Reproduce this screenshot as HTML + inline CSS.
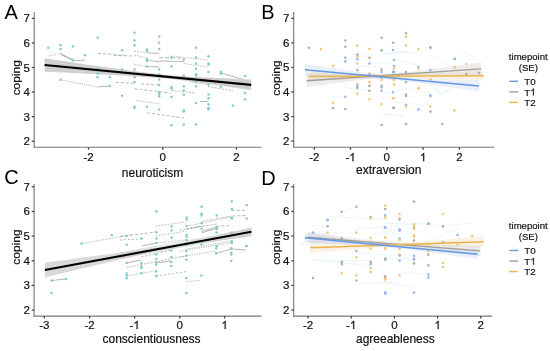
<!DOCTYPE html>
<html><head><meta charset="utf-8"><style>
html,body{margin:0;padding:0;background:#fff;}
svg{display:block;will-change:transform;}
text{font-family:"Liberation Sans", sans-serif;fill:#1a1a1a;}
.tk{font-size:11.5px;fill:#111;stroke:#111;stroke-width:0.2px;}
.ti{font-size:12px;fill:#111;stroke:#111;stroke-width:0.2px;}
.pl{font-size:20px;fill:#000;}
.lg2{font-size:9.8px;fill:#111;stroke:#111;stroke-width:0.18px;}
.lg{font-size:9.6px;fill:#111;stroke:#111;stroke-width:0.18px;}
</style></head><body>
<svg width="550" height="351" viewBox="0 0 550 351">
<rect width="550" height="351" fill="#fff"/>
<g>
<line x1="48.5" y1="56" x2="60.5" y2="53.4" stroke="#9c9c9c" stroke-width="0.75" stroke-dasharray="1,1.2"/>
<line x1="60.5" y1="53" x2="73" y2="61" stroke="#9c9c9c" stroke-width="0.75"/>
<line x1="60.5" y1="54.6" x2="73" y2="59.6" stroke="#9c9c9c" stroke-width="0.75"/>
<line x1="73" y1="61" x2="85" y2="60" stroke="#9c9c9c" stroke-width="0.75"/>
<line x1="98" y1="53.3" x2="124" y2="55.5" stroke="#9c9c9c" stroke-width="0.75" stroke-dasharray="3,2"/>
<line x1="60.5" y1="79.8" x2="97.7" y2="87" stroke="#9c9c9c" stroke-width="0.75" stroke-dasharray="1,1"/>
<line x1="97.7" y1="87" x2="109.8" y2="86" stroke="#9c9c9c" stroke-width="0.75"/>
<line x1="114" y1="55.5" x2="134.5" y2="56" stroke="#9c9c9c" stroke-width="0.75" stroke-dasharray="3,2"/>
<line x1="134.5" y1="51.5" x2="146.9" y2="52.5" stroke="#9c9c9c" stroke-width="0.75" stroke-dasharray="1.5,1.5"/>
<line x1="146.9" y1="52.8" x2="159.2" y2="53.3" stroke="#9c9c9c" stroke-width="0.75"/>
<line x1="134.5" y1="55" x2="146.9" y2="58" stroke="#9c9c9c" stroke-width="0.75" stroke-dasharray="1.5,1.5"/>
<line x1="146.9" y1="60" x2="159.2" y2="62" stroke="#9c9c9c" stroke-width="0.75"/>
<line x1="159.2" y1="57.6" x2="183.8" y2="58" stroke="#9c9c9c" stroke-width="0.75" stroke-dasharray="4,2"/>
<line x1="171.5" y1="56" x2="208" y2="60" stroke="#9c9c9c" stroke-width="0.75" stroke-dasharray="1.2,1.2"/>
<line x1="134.5" y1="64.5" x2="146.9" y2="66.5" stroke="#9c9c9c" stroke-width="0.75" stroke-dasharray="1.2,1.2"/>
<line x1="146.9" y1="66.5" x2="159.2" y2="67" stroke="#9c9c9c" stroke-width="0.75"/>
<line x1="183.8" y1="63.5" x2="208" y2="67" stroke="#9c9c9c" stroke-width="0.75" stroke-dasharray="1.2,1.2"/>
<line x1="159.2" y1="61" x2="183.8" y2="61.5" stroke="#9c9c9c" stroke-width="0.75"/>
<line x1="115.7" y1="82.3" x2="134.5" y2="83.3" stroke="#9c9c9c" stroke-width="0.75" stroke-dasharray="3,2"/>
<line x1="134.5" y1="88.8" x2="170.5" y2="93.1" stroke="#9c9c9c" stroke-width="0.75" stroke-dasharray="3,2"/>
<line x1="136.2" y1="100.5" x2="159.2" y2="103.9" stroke="#9c9c9c" stroke-width="0.75" stroke-dasharray="1.2,1.2"/>
<line x1="146.9" y1="112.8" x2="183.8" y2="117.9" stroke="#9c9c9c" stroke-width="0.75" stroke-dasharray="3,2"/>
<line x1="171.5" y1="90.5" x2="196.1" y2="93.1" stroke="#9c9c9c" stroke-width="0.75" stroke-dasharray="2,1.5"/>
<line x1="141" y1="84" x2="159.2" y2="85" stroke="#9c9c9c" stroke-width="0.75" stroke-dasharray="3,2"/>
<line x1="220.8" y1="73" x2="245" y2="80" stroke="#9c9c9c" stroke-width="0.75"/>
<line x1="190" y1="82" x2="208.5" y2="84.5" stroke="#9c9c9c" stroke-width="0.75" stroke-dasharray="1.2,1.2"/>
<line x1="208" y1="86.5" x2="233" y2="91" stroke="#9c9c9c" stroke-width="0.75" stroke-dasharray="2,1.5"/>
<line x1="200" y1="101.5" x2="208.5" y2="101.5" stroke="#9c9c9c" stroke-width="0.75"/>
<polygon points="44.6,58.2 49.8,59.0 54.9,59.8 60.1,60.6 65.3,61.3 70.4,62.1 75.6,62.9 80.8,63.7 85.9,64.4 91.1,65.2 96.2,66.0 101.4,66.8 106.6,67.5 111.7,68.3 116.9,69.0 122.1,69.8 127.2,70.5 132.4,71.2 137.6,71.9 142.7,72.6 147.9,73.2 153.1,73.8 158.2,74.3 163.4,74.8 168.6,75.3 173.7,75.7 178.9,76.0 184.1,76.3 189.2,76.6 194.4,76.9 199.5,77.1 204.7,77.4 209.9,77.6 215.0,77.9 220.2,78.1 225.4,78.3 230.5,78.5 235.7,78.8 240.9,79.0 246.0,79.2 251.2,79.4 251.2,90.4 246.0,89.6 240.9,88.8 235.7,88.1 230.5,87.3 225.4,86.5 220.2,85.7 215.0,85.0 209.9,84.2 204.7,83.5 199.5,82.7 194.4,82.0 189.2,81.3 184.1,80.6 178.9,79.9 173.7,79.2 168.6,78.6 163.4,78.1 158.2,77.5 153.1,77.1 147.9,76.7 142.7,76.3 137.6,76.0 132.4,75.7 127.2,75.4 122.1,75.2 116.9,74.9 111.7,74.7 106.6,74.4 101.4,74.2 96.2,74.0 91.1,73.7 85.9,73.5 80.8,73.3 75.6,73.1 70.4,72.9 65.3,72.6 60.1,72.4 54.9,72.2 49.8,72.0 44.6,71.8" fill="#d4d4d4"/>
<line x1="44.6" y1="60" x2="251.2" y2="86.5" stroke="#c2c2c2" stroke-width="0.6"/>
<line x1="44.6" y1="70" x2="251.2" y2="83.5" stroke="#c2c2c2" stroke-width="0.6"/>
<line x1="44.6" y1="62.5" x2="251.2" y2="88" stroke="#c2c2c2" stroke-width="0.6"/>
<line x1="44.6" y1="68" x2="251.2" y2="81.5" stroke="#c2c2c2" stroke-width="0.6"/>
<circle cx="48.2" cy="47.7" r="1.25" fill="#84c9ce"/>
<circle cx="60.5" cy="45.3" r="1.25" fill="#84c9ce"/>
<circle cx="60.5" cy="49.1" r="1.25" fill="#84c9ce"/>
<circle cx="73" cy="46.5" r="1.25" fill="#84c9ce"/>
<circle cx="97.7" cy="37.8" r="1.25" fill="#84c9ce"/>
<circle cx="85" cy="55.2" r="1.25" fill="#84c9ce"/>
<circle cx="73" cy="60" r="1.25" fill="#84c9ce"/>
<circle cx="122.1" cy="50.3" r="1.25" fill="#84c9ce"/>
<circle cx="97.7" cy="68.4" r="1.25" fill="#84c9ce"/>
<circle cx="97.7" cy="73.6" r="1.25" fill="#84c9ce"/>
<circle cx="97.7" cy="77.3" r="1.25" fill="#84c9ce"/>
<circle cx="109.8" cy="77.3" r="1.25" fill="#84c9ce"/>
<circle cx="60.5" cy="79.8" r="1.25" fill="#84c9ce"/>
<circle cx="122.1" cy="69.6" r="1.25" fill="#84c9ce"/>
<circle cx="134.5" cy="32.8" r="1.25" fill="#84c9ce"/>
<circle cx="134.5" cy="40.5" r="1.25" fill="#84c9ce"/>
<circle cx="134.5" cy="45.3" r="1.25" fill="#84c9ce"/>
<circle cx="146.9" cy="49.4" r="1.25" fill="#84c9ce"/>
<circle cx="146.9" cy="51.1" r="1.25" fill="#84c9ce"/>
<circle cx="146.9" cy="59" r="1.25" fill="#84c9ce"/>
<circle cx="146.9" cy="61" r="1.25" fill="#84c9ce"/>
<circle cx="146.9" cy="66.5" r="1.25" fill="#84c9ce"/>
<circle cx="159.2" cy="36.6" r="1.25" fill="#84c9ce"/>
<circle cx="159.2" cy="42.8" r="1.25" fill="#84c9ce"/>
<circle cx="159.2" cy="49.1" r="1.25" fill="#84c9ce"/>
<circle cx="159.2" cy="69.6" r="1.25" fill="#84c9ce"/>
<circle cx="159.2" cy="74.4" r="1.25" fill="#84c9ce"/>
<circle cx="171.5" cy="57.6" r="1.25" fill="#84c9ce"/>
<circle cx="171.5" cy="66.2" r="1.25" fill="#84c9ce"/>
<circle cx="183.8" cy="59.4" r="1.25" fill="#84c9ce"/>
<circle cx="183.8" cy="75.6" r="1.25" fill="#84c9ce"/>
<circle cx="196.1" cy="47.7" r="1.25" fill="#84c9ce"/>
<circle cx="196.1" cy="57.6" r="1.25" fill="#84c9ce"/>
<circle cx="196.1" cy="63.6" r="1.25" fill="#84c9ce"/>
<circle cx="196.1" cy="68.8" r="1.25" fill="#84c9ce"/>
<circle cx="196.1" cy="75.6" r="1.25" fill="#84c9ce"/>
<circle cx="134.5" cy="69.6" r="1.25" fill="#84c9ce"/>
<circle cx="134.5" cy="77.3" r="1.25" fill="#84c9ce"/>
<circle cx="196.2" cy="74.3" r="1.25" fill="#84c9ce"/>
<circle cx="208.5" cy="56.2" r="1.25" fill="#84c9ce"/>
<circle cx="208.5" cy="63.6" r="1.25" fill="#84c9ce"/>
<circle cx="208.5" cy="64.6" r="1.25" fill="#84c9ce"/>
<circle cx="208.5" cy="72.1" r="1.25" fill="#84c9ce"/>
<circle cx="220.8" cy="72.1" r="1.25" fill="#84c9ce"/>
<circle cx="220.8" cy="73.8" r="1.25" fill="#84c9ce"/>
<circle cx="245" cy="75.9" r="1.25" fill="#84c9ce"/>
<circle cx="109.8" cy="85.9" r="1.25" fill="#84c9ce"/>
<circle cx="122.1" cy="95.7" r="1.25" fill="#84c9ce"/>
<circle cx="134.5" cy="82" r="1.25" fill="#84c9ce"/>
<circle cx="134.5" cy="106.8" r="1.25" fill="#84c9ce"/>
<circle cx="134.5" cy="108" r="1.25" fill="#84c9ce"/>
<circle cx="146.9" cy="106.8" r="1.25" fill="#84c9ce"/>
<circle cx="159.2" cy="79.4" r="1.25" fill="#84c9ce"/>
<circle cx="159.2" cy="85" r="1.25" fill="#84c9ce"/>
<circle cx="159.2" cy="92.2" r="1.25" fill="#84c9ce"/>
<circle cx="159.2" cy="94.3" r="1.25" fill="#84c9ce"/>
<circle cx="159.2" cy="96.5" r="1.25" fill="#84c9ce"/>
<circle cx="159.2" cy="109.4" r="1.25" fill="#84c9ce"/>
<circle cx="171.5" cy="87.1" r="1.25" fill="#84c9ce"/>
<circle cx="171.5" cy="88.5" r="1.25" fill="#84c9ce"/>
<circle cx="171.5" cy="97" r="1.25" fill="#84c9ce"/>
<circle cx="171.5" cy="125.3" r="1.25" fill="#84c9ce"/>
<circle cx="183.8" cy="86.3" r="1.25" fill="#84c9ce"/>
<circle cx="183.8" cy="90.5" r="1.25" fill="#84c9ce"/>
<circle cx="183.8" cy="94.8" r="1.25" fill="#84c9ce"/>
<circle cx="183.8" cy="110.2" r="1.25" fill="#84c9ce"/>
<circle cx="183.8" cy="111.6" r="1.25" fill="#84c9ce"/>
<circle cx="183.8" cy="124.4" r="1.25" fill="#84c9ce"/>
<circle cx="196.1" cy="82" r="1.25" fill="#84c9ce"/>
<circle cx="196.1" cy="86.3" r="1.25" fill="#84c9ce"/>
<circle cx="196.1" cy="102.9" r="1.25" fill="#84c9ce"/>
<circle cx="196.1" cy="124.4" r="1.25" fill="#84c9ce"/>
<circle cx="208.5" cy="84.5" r="1.25" fill="#84c9ce"/>
<circle cx="220.8" cy="86.7" r="1.25" fill="#84c9ce"/>
<circle cx="208.5" cy="94.4" r="1.25" fill="#84c9ce"/>
<circle cx="208.5" cy="98.2" r="1.25" fill="#84c9ce"/>
<circle cx="208.5" cy="104.2" r="1.25" fill="#84c9ce"/>
<circle cx="208.5" cy="107.9" r="1.25" fill="#84c9ce"/>
<circle cx="208.5" cy="109.3" r="1.25" fill="#84c9ce"/>
<circle cx="233" cy="105.5" r="1.25" fill="#84c9ce"/>
<circle cx="245" cy="93.1" r="1.25" fill="#84c9ce"/>
<circle cx="245" cy="99.4" r="1.25" fill="#84c9ce"/>
<line x1="44.6" y1="65.0" x2="251.2" y2="84.9" stroke="#000" stroke-width="2.1"/>
</g>
<line x1="34.2" y1="12" x2="34.2" y2="147.8" stroke="#767676" stroke-width="1.1"/>
<line x1="33.7" y1="147.3" x2="261.5" y2="147.3" stroke="#767676" stroke-width="1.1"/>
<line x1="31.800000000000004" y1="18.4" x2="34.2" y2="18.4" stroke="#454545" stroke-width="1.3"/>
<text x="30.000000000000004" y="22.4" text-anchor="end" class="tk">7</text>
<line x1="31.800000000000004" y1="42.96" x2="34.2" y2="42.96" stroke="#454545" stroke-width="1.3"/>
<text x="30.000000000000004" y="46.96" text-anchor="end" class="tk">6</text>
<line x1="31.800000000000004" y1="67.52" x2="34.2" y2="67.52" stroke="#454545" stroke-width="1.3"/>
<text x="30.000000000000004" y="71.52" text-anchor="end" class="tk">5</text>
<line x1="31.800000000000004" y1="92.08" x2="34.2" y2="92.08" stroke="#454545" stroke-width="1.3"/>
<text x="30.000000000000004" y="96.08" text-anchor="end" class="tk">4</text>
<line x1="31.800000000000004" y1="116.64" x2="34.2" y2="116.64" stroke="#454545" stroke-width="1.3"/>
<text x="30.000000000000004" y="120.64" text-anchor="end" class="tk">3</text>
<line x1="31.800000000000004" y1="141.2" x2="34.2" y2="141.2" stroke="#454545" stroke-width="1.3"/>
<text x="30.000000000000004" y="145.2" text-anchor="end" class="tk">2</text>
<line x1="88.5" y1="147.3" x2="88.5" y2="149.70000000000002" stroke="#454545" stroke-width="1.3"/>
<text x="88.5" y="160.5" text-anchor="middle" class="tk">-2</text>
<line x1="162.7" y1="147.3" x2="162.7" y2="149.70000000000002" stroke="#454545" stroke-width="1.3"/>
<text x="162.7" y="160.5" text-anchor="middle" class="tk">0</text>
<line x1="236.4" y1="147.3" x2="236.4" y2="149.70000000000002" stroke="#454545" stroke-width="1.3"/>
<text x="236.4" y="160.5" text-anchor="middle" class="tk">2</text>
<text x="121.8" y="176.5" class="ti">neuroticism</text>
<text transform="translate(20.1,77.7) rotate(-90) scale(1,0.9)" x="0" y="0" text-anchor="middle" class="ti">coping</text>
<text x="4.5" y="18.7" class="pl">A</text>
<line x1="81.6" y1="243.6" x2="132.2" y2="234.5" stroke="#9c9c9c" stroke-width="0.75" stroke-dasharray="1.2,1.2"/>
<line x1="120" y1="236.5" x2="156" y2="232" stroke="#9c9c9c" stroke-width="0.75" stroke-dasharray="3,2"/>
<line x1="120" y1="240" x2="141.5" y2="239" stroke="#9c9c9c" stroke-width="0.75" stroke-dasharray="2,2"/>
<line x1="156" y1="226" x2="186.6" y2="222" stroke="#9c9c9c" stroke-width="0.75" stroke-dasharray="1.5,1.5"/>
<line x1="156" y1="236" x2="186.6" y2="231" stroke="#9c9c9c" stroke-width="0.75" stroke-dasharray="1.5,1.5"/>
<line x1="186.6" y1="229" x2="200" y2="226" stroke="#9c9c9c" stroke-width="0.75" stroke-dasharray="2,1.5"/>
<line x1="156" y1="243" x2="186.6" y2="240" stroke="#9c9c9c" stroke-width="0.75" stroke-dasharray="1.2,1.2"/>
<line x1="142" y1="246" x2="156" y2="243" stroke="#9c9c9c" stroke-width="0.75"/>
<line x1="186.5" y1="226.3" x2="230.9" y2="216.8" stroke="#9c9c9c" stroke-width="0.75" stroke-dasharray="1.2,1.2"/>
<line x1="186.6" y1="229" x2="216.7" y2="224" stroke="#9c9c9c" stroke-width="0.75" stroke-dasharray="2.5,1.5"/>
<line x1="201.8" y1="231.4" x2="216.4" y2="227.1" stroke="#9c9c9c" stroke-width="0.75"/>
<line x1="201.8" y1="232.8" x2="216.4" y2="228.5" stroke="#9c9c9c" stroke-width="0.75"/>
<line x1="231.8" y1="210.3" x2="246.9" y2="210.3" stroke="#9c9c9c" stroke-width="0.75" stroke-dasharray="3,2"/>
<line x1="232.4" y1="216.1" x2="246.9" y2="215.4" stroke="#9c9c9c" stroke-width="0.75" stroke-dasharray="3,2"/>
<line x1="216.4" y1="226.3" x2="230.9" y2="225.5" stroke="#9c9c9c" stroke-width="0.75" stroke-dasharray="3,2"/>
<line x1="201.8" y1="221.2" x2="230.9" y2="216.1" stroke="#9c9c9c" stroke-width="0.75" stroke-dasharray="1.2,1.2"/>
<line x1="180" y1="230" x2="201.8" y2="226.3" stroke="#9c9c9c" stroke-width="0.75" stroke-dasharray="2,1.5"/>
<line x1="186.6" y1="249" x2="231.8" y2="241" stroke="#9c9c9c" stroke-width="0.75" stroke-dasharray="1.2,1.2"/>
<line x1="126.8" y1="267.4" x2="186.7" y2="255.7" stroke="#9c9c9c" stroke-width="0.75" stroke-dasharray="2,1.5"/>
<line x1="126.8" y1="275.9" x2="156.2" y2="270.8" stroke="#9c9c9c" stroke-width="0.75" stroke-dasharray="1.2,1.2"/>
<line x1="156.2" y1="275.9" x2="186.3" y2="271.6" stroke="#9c9c9c" stroke-width="0.75" stroke-dasharray="2,2"/>
<line x1="141" y1="257" x2="171" y2="250" stroke="#9c9c9c" stroke-width="0.75" stroke-dasharray="2.5,1.5"/>
<line x1="186.3" y1="281.9" x2="200" y2="280.2" stroke="#9c9c9c" stroke-width="0.75" stroke-dasharray="1.2,1.2"/>
<line x1="126.5" y1="263" x2="141" y2="260" stroke="#9c9c9c" stroke-width="0.75"/>
<line x1="156" y1="263" x2="171" y2="261" stroke="#9c9c9c" stroke-width="0.75"/>
<line x1="180" y1="251" x2="231.3" y2="243" stroke="#9c9c9c" stroke-width="0.75" stroke-dasharray="1.2,1.2"/>
<line x1="180" y1="257" x2="216" y2="251" stroke="#9c9c9c" stroke-width="0.75" stroke-dasharray="1.2,1.2"/>
<line x1="216.2" y1="253.3" x2="231.3" y2="249" stroke="#9c9c9c" stroke-width="0.75"/>
<line x1="231.3" y1="249" x2="246" y2="250" stroke="#9c9c9c" stroke-width="0.75"/>
<line x1="51.6" y1="280.5" x2="66" y2="278.9" stroke="#9c9c9c" stroke-width="0.75"/>
<polygon points="44.9,262.6 50.1,261.9 55.2,261.2 60.4,260.6 65.5,259.9 70.7,259.2 75.9,258.5 81.0,257.8 86.2,257.1 91.4,256.5 96.5,255.8 101.7,255.1 106.8,254.4 112.0,253.7 117.2,253.0 122.3,252.3 127.5,251.5 132.7,250.8 137.8,250.1 143.0,249.3 148.2,248.6 153.3,247.8 158.5,247.0 163.6,246.1 168.8,245.2 174.0,244.3 179.1,243.4 184.3,242.3 189.5,241.3 194.6,240.2 199.8,239.1 204.9,238.0 210.1,236.8 215.3,235.7 220.4,234.5 225.6,233.3 230.8,232.1 235.9,230.9 241.1,229.7 246.2,228.5 251.4,227.3 251.4,236.3 246.2,237.0 241.1,237.7 235.9,238.4 230.8,239.1 225.6,239.8 220.4,240.6 215.3,241.3 210.1,242.1 204.9,242.8 199.8,243.6 194.6,244.4 189.5,245.2 184.3,246.1 179.1,247.0 174.0,247.9 168.8,248.9 163.6,249.9 158.5,251.0 153.3,252.1 148.2,253.2 143.0,254.4 137.8,255.5 132.7,256.7 127.5,257.9 122.3,259.1 117.2,260.3 112.0,261.5 106.8,262.7 101.7,263.9 96.5,265.1 91.4,266.4 86.2,267.6 81.0,268.8 75.9,270.0 70.7,271.3 65.5,272.5 60.4,273.7 55.2,274.9 50.1,276.2 44.9,277.4" fill="#d9d9d9"/>
<line x1="120" y1="253" x2="251.4" y2="229.2" stroke="#c6c6c6" stroke-width="0.6"/>
<line x1="120" y1="258" x2="251.4" y2="234.6" stroke="#c6c6c6" stroke-width="0.6"/>
<circle cx="81.6" cy="243.6" r="1.25" fill="#84c9ce"/>
<circle cx="111.8" cy="234.9" r="1.25" fill="#84c9ce"/>
<circle cx="126.7" cy="236" r="1.25" fill="#84c9ce"/>
<circle cx="126.7" cy="244.8" r="1.25" fill="#84c9ce"/>
<circle cx="51.6" cy="280.5" r="1.25" fill="#84c9ce"/>
<circle cx="66.0" cy="278.9" r="1.25" fill="#84c9ce"/>
<circle cx="51.6" cy="292.9" r="1.25" fill="#84c9ce"/>
<circle cx="126.7" cy="263.1" r="1.25" fill="#84c9ce"/>
<circle cx="126.7" cy="273.6" r="1.25" fill="#84c9ce"/>
<circle cx="126.7" cy="275.5" r="1.25" fill="#84c9ce"/>
<circle cx="126.7" cy="278.2" r="1.25" fill="#84c9ce"/>
<circle cx="156.4" cy="211.3" r="1.25" fill="#84c9ce"/>
<circle cx="141.5" cy="238.5" r="1.25" fill="#84c9ce"/>
<circle cx="156.4" cy="232.3" r="1.25" fill="#84c9ce"/>
<circle cx="156.4" cy="238.5" r="1.25" fill="#84c9ce"/>
<circle cx="156.4" cy="242.9" r="1.25" fill="#84c9ce"/>
<circle cx="171.6" cy="226.2" r="1.25" fill="#84c9ce"/>
<circle cx="171.6" cy="230.5" r="1.25" fill="#84c9ce"/>
<circle cx="171.6" cy="237.8" r="1.25" fill="#84c9ce"/>
<circle cx="186.6" cy="217.5" r="1.25" fill="#84c9ce"/>
<circle cx="186.6" cy="219.6" r="1.25" fill="#84c9ce"/>
<circle cx="186.6" cy="225.9" r="1.25" fill="#84c9ce"/>
<circle cx="186.6" cy="234.9" r="1.25" fill="#84c9ce"/>
<circle cx="186.6" cy="236.7" r="1.25" fill="#84c9ce"/>
<circle cx="186.6" cy="240" r="1.25" fill="#84c9ce"/>
<circle cx="186.6" cy="245.1" r="1.25" fill="#84c9ce"/>
<circle cx="201.6" cy="206.8" r="1.25" fill="#84c9ce"/>
<circle cx="201.6" cy="213.8" r="1.25" fill="#84c9ce"/>
<circle cx="201.6" cy="215.4" r="1.25" fill="#84c9ce"/>
<circle cx="201.6" cy="223.2" r="1.25" fill="#84c9ce"/>
<circle cx="201.6" cy="228.7" r="1.25" fill="#84c9ce"/>
<circle cx="201.6" cy="244.4" r="1.25" fill="#84c9ce"/>
<circle cx="216.7" cy="215.4" r="1.25" fill="#84c9ce"/>
<circle cx="216.7" cy="227.2" r="1.25" fill="#84c9ce"/>
<circle cx="216.7" cy="228.7" r="1.25" fill="#84c9ce"/>
<circle cx="216.7" cy="232.6" r="1.25" fill="#84c9ce"/>
<circle cx="216.7" cy="246" r="1.25" fill="#84c9ce"/>
<circle cx="231.8" cy="201.6" r="1.25" fill="#84c9ce"/>
<circle cx="231.8" cy="209.1" r="1.25" fill="#84c9ce"/>
<circle cx="231.8" cy="217.7" r="1.25" fill="#84c9ce"/>
<circle cx="231.8" cy="218.5" r="1.25" fill="#84c9ce"/>
<circle cx="231.8" cy="232.6" r="1.25" fill="#84c9ce"/>
<circle cx="231.8" cy="241.3" r="1.25" fill="#84c9ce"/>
<circle cx="231.8" cy="242.8" r="1.25" fill="#84c9ce"/>
<circle cx="246.7" cy="205.2" r="1.25" fill="#84c9ce"/>
<circle cx="246.7" cy="218.5" r="1.25" fill="#84c9ce"/>
<circle cx="246.7" cy="246" r="1.25" fill="#84c9ce"/>
<circle cx="141.4" cy="263.1" r="1.25" fill="#84c9ce"/>
<circle cx="141.4" cy="266.5" r="1.25" fill="#84c9ce"/>
<circle cx="141.4" cy="267.9" r="1.25" fill="#84c9ce"/>
<circle cx="141.4" cy="273.3" r="1.25" fill="#84c9ce"/>
<circle cx="156.2" cy="254.5" r="1.25" fill="#84c9ce"/>
<circle cx="156.2" cy="259.1" r="1.25" fill="#84c9ce"/>
<circle cx="156.2" cy="262.2" r="1.25" fill="#84c9ce"/>
<circle cx="156.2" cy="264.8" r="1.25" fill="#84c9ce"/>
<circle cx="156.2" cy="271.6" r="1.25" fill="#84c9ce"/>
<circle cx="156.2" cy="275.9" r="1.25" fill="#84c9ce"/>
<circle cx="171.3" cy="250.6" r="1.25" fill="#84c9ce"/>
<circle cx="171.3" cy="257.1" r="1.25" fill="#84c9ce"/>
<circle cx="171.3" cy="261.9" r="1.25" fill="#84c9ce"/>
<circle cx="171.3" cy="266" r="1.25" fill="#84c9ce"/>
<circle cx="186.3" cy="251.1" r="1.25" fill="#84c9ce"/>
<circle cx="186.3" cy="255.4" r="1.25" fill="#84c9ce"/>
<circle cx="186.3" cy="259.7" r="1.25" fill="#84c9ce"/>
<circle cx="186.3" cy="278" r="1.25" fill="#84c9ce"/>
<circle cx="186.3" cy="293" r="1.25" fill="#84c9ce"/>
<circle cx="201.4" cy="275.6" r="1.25" fill="#84c9ce"/>
<circle cx="216.2" cy="248.2" r="1.25" fill="#84c9ce"/>
<circle cx="216.2" cy="253.3" r="1.25" fill="#84c9ce"/>
<circle cx="231.3" cy="248.2" r="1.25" fill="#84c9ce"/>
<circle cx="231.3" cy="252.8" r="1.25" fill="#84c9ce"/>
<circle cx="231.3" cy="254.5" r="1.25" fill="#84c9ce"/>
<circle cx="231.3" cy="260.9" r="1.25" fill="#84c9ce"/>
<circle cx="246.3" cy="246" r="1.25" fill="#84c9ce"/>
<line x1="44.9" y1="270.0" x2="251.4" y2="231.8" stroke="#000" stroke-width="2.1"/>
<line x1="34.1" y1="184" x2="34.1" y2="316.6" stroke="#767676" stroke-width="1.1"/>
<line x1="33.6" y1="316.1" x2="261.4" y2="316.1" stroke="#767676" stroke-width="1.1"/>
<line x1="31.700000000000003" y1="186.8" x2="34.1" y2="186.8" stroke="#454545" stroke-width="1.3"/>
<text x="29.900000000000002" y="190.8" text-anchor="end" class="tk">7</text>
<line x1="31.700000000000003" y1="211.46" x2="34.1" y2="211.46" stroke="#454545" stroke-width="1.3"/>
<text x="29.900000000000002" y="215.46" text-anchor="end" class="tk">6</text>
<line x1="31.700000000000003" y1="236.12" x2="34.1" y2="236.12" stroke="#454545" stroke-width="1.3"/>
<text x="29.900000000000002" y="240.12" text-anchor="end" class="tk">5</text>
<line x1="31.700000000000003" y1="260.78" x2="34.1" y2="260.78" stroke="#454545" stroke-width="1.3"/>
<text x="29.900000000000002" y="264.78" text-anchor="end" class="tk">4</text>
<line x1="31.700000000000003" y1="285.44" x2="34.1" y2="285.44" stroke="#454545" stroke-width="1.3"/>
<text x="29.900000000000002" y="289.44" text-anchor="end" class="tk">3</text>
<line x1="31.700000000000003" y1="310.1" x2="34.1" y2="310.1" stroke="#454545" stroke-width="1.3"/>
<text x="29.900000000000002" y="314.1" text-anchor="end" class="tk">2</text>
<line x1="44.4" y1="316.1" x2="44.4" y2="318.5" stroke="#454545" stroke-width="1.3"/>
<text x="44.4" y="329.0" text-anchor="middle" class="tk">-3</text>
<line x1="89.6" y1="316.1" x2="89.6" y2="318.5" stroke="#454545" stroke-width="1.3"/>
<text x="89.6" y="329.0" text-anchor="middle" class="tk">-2</text>
<line x1="134.6" y1="316.1" x2="134.6" y2="318.5" stroke="#454545" stroke-width="1.3"/>
<text x="129.49" y="329.0" class="tk">-</text><path d="M762 0L582 0L582 1147Q517 1085 411 1023Q305 961 221 930L221 1104Q372 1175 485 1276Q598 1377 645 1472L762 1472Z" transform="translate(133.32,329.00) scale(0.00562,-0.00562)" fill="#111" stroke="#111" stroke-width="35.6"/>
<line x1="179.8" y1="316.1" x2="179.8" y2="318.5" stroke="#454545" stroke-width="1.3"/>
<text x="179.8" y="329.0" text-anchor="middle" class="tk">0</text>
<line x1="224.6" y1="316.1" x2="224.6" y2="318.5" stroke="#454545" stroke-width="1.3"/>
<path d="M762 0L582 0L582 1147Q517 1085 411 1023Q305 961 221 930L221 1104Q372 1175 485 1276Q598 1377 645 1472L762 1472Z" transform="translate(221.40,329.00) scale(0.00562,-0.00562)" fill="#111" stroke="#111" stroke-width="35.6"/>
<text x="102.5" y="343.1" class="ti">conscientiousness</text>
<text transform="translate(20.1,247.0) rotate(-90) scale(1,0.9)" x="0" y="0" text-anchor="middle" class="ti">coping</text>
<text x="4.2" y="184.0" class="pl">C</text>
<line x1="334.4" y1="61.8" x2="345.3" y2="61.1" stroke="#cde8ec" stroke-width="0.65" stroke-dasharray="1.6,1.1"/>
<line x1="345.3" y1="60.4" x2="357.6" y2="55.3" stroke="#cde8ec" stroke-width="0.65" stroke-dasharray="1.6,1.1"/>
<line x1="357.6" y1="55.3" x2="369.3" y2="54.5" stroke="#cde8ec" stroke-width="0.65" stroke-dasharray="1.6,1.1"/>
<line x1="357.6" y1="57.5" x2="369.3" y2="57" stroke="#cde8ec" stroke-width="0.65" stroke-dasharray="1.6,1.1"/>
<line x1="357.6" y1="66.2" x2="381" y2="67" stroke="#cde8ec" stroke-width="0.65" stroke-dasharray="1.6,1.1"/>
<line x1="369.5" y1="62" x2="394" y2="63.5" stroke="#cde8ec" stroke-width="0.65" stroke-dasharray="1.6,1.1"/>
<line x1="381" y1="53.8" x2="410" y2="51.6" stroke="#cde8ec" stroke-width="0.65" stroke-dasharray="1.6,1.1"/>
<line x1="394" y1="60" x2="418" y2="65" stroke="#cde8ec" stroke-width="0.65" stroke-dasharray="1.6,1.1"/>
<line x1="384" y1="53.4" x2="404" y2="52" stroke="#cde8ec" stroke-width="0.65" stroke-dasharray="1.6,1.1"/>
<line x1="404" y1="52" x2="417" y2="53.4" stroke="#cde8ec" stroke-width="0.65" stroke-dasharray="1.6,1.1"/>
<line x1="430" y1="56" x2="454" y2="67" stroke="#cde8ec" stroke-width="0.65" stroke-dasharray="1.6,1.1"/>
<line x1="454" y1="67" x2="466" y2="52" stroke="#cde8ec" stroke-width="0.65" stroke-dasharray="1.6,1.1"/>
<line x1="466" y1="52" x2="480" y2="62" stroke="#cde8ec" stroke-width="0.65" stroke-dasharray="1.6,1.1"/>
<line x1="430" y1="86" x2="442" y2="94.6" stroke="#cde8ec" stroke-width="0.65" stroke-dasharray="1.6,1.1"/>
<line x1="442" y1="94.6" x2="454" y2="87.7" stroke="#cde8ec" stroke-width="0.65" stroke-dasharray="1.6,1.1"/>
<line x1="384" y1="93" x2="406" y2="89" stroke="#cde8ec" stroke-width="0.65" stroke-dasharray="1.6,1.1"/>
<line x1="406" y1="89" x2="430" y2="93" stroke="#cde8ec" stroke-width="0.65" stroke-dasharray="1.6,1.1"/>
<line x1="430" y1="85" x2="442" y2="94" stroke="#cde8ec" stroke-width="0.65" stroke-dasharray="1.6,1.1"/>
<line x1="442" y1="94" x2="454" y2="85" stroke="#cde8ec" stroke-width="0.65" stroke-dasharray="1.6,1.1"/>
<line x1="394" y1="102" x2="430" y2="106" stroke="#cde8ec" stroke-width="0.65" stroke-dasharray="1.6,1.1"/>
<line x1="384" y1="114" x2="404" y2="116" stroke="#cde8ec" stroke-width="0.65" stroke-dasharray="1.6,1.1"/>
<line x1="333" y1="98.6" x2="345.3" y2="96" stroke="#cde8ec" stroke-width="0.65" stroke-dasharray="1.6,1.1"/>
<line x1="345" y1="87" x2="357" y2="89.5" stroke="#cde8ec" stroke-width="0.65" stroke-dasharray="1.6,1.1"/>
<line x1="357" y1="89.5" x2="369.5" y2="90.5" stroke="#cde8ec" stroke-width="0.65" stroke-dasharray="1.6,1.1"/>
<line x1="381.6" y1="114" x2="393" y2="115" stroke="#cde8ec" stroke-width="0.65" stroke-dasharray="1.6,1.1"/>
<polygon points="304.9,63.8 309.3,64.5 313.6,65.2 318.0,65.8 322.3,66.5 326.7,67.2 331.0,67.8 335.4,68.5 339.7,69.1 344.1,69.8 348.4,70.4 352.8,71.1 357.1,71.7 361.5,72.3 365.8,72.9 370.2,73.5 374.5,74.0 378.9,74.6 383.2,75.0 387.6,75.5 391.9,75.9 396.3,76.3 400.7,76.6 405.0,76.9 409.4,77.2 413.7,77.5 418.1,77.8 422.4,78.0 426.8,78.2 431.1,78.4 435.5,78.7 439.8,78.9 444.2,79.1 448.5,79.2 452.9,79.4 457.2,79.6 461.6,79.8 465.9,80.0 470.3,80.2 474.6,80.3 479.0,80.5 479.0,91.5 474.6,90.9 470.3,90.2 465.9,89.6 461.6,89.0 457.2,88.3 452.9,87.7 448.5,87.1 444.2,86.5 439.8,85.9 435.5,85.2 431.1,84.6 426.8,84.1 422.4,83.5 418.1,82.9 413.7,82.3 409.4,81.8 405.0,81.3 400.7,80.8 396.3,80.3 391.9,79.9 387.6,79.5 383.2,79.1 378.9,78.8 374.5,78.5 370.2,78.3 365.8,78.0 361.5,77.8 357.1,77.6 352.8,77.4 348.4,77.3 344.1,77.1 339.7,76.9 335.4,76.8 331.0,76.6 326.7,76.5 322.3,76.3 318.0,76.2 313.6,76.1 309.3,75.9 304.9,75.8" fill="rgba(170,195,235,0.25)"/>
<polygon points="308.5,71.5 312.9,71.7 317.3,71.9 321.6,72.1 326.0,72.3 330.4,72.5 334.8,72.7 339.1,72.9 343.5,73.1 347.9,73.2 352.3,73.4 356.7,73.6 361.0,73.7 365.4,73.9 369.8,74.0 374.2,74.1 378.5,74.2 382.9,74.3 387.3,74.3 391.7,74.4 396.1,74.3 400.4,74.3 404.8,74.2 409.2,74.1 413.6,74.0 417.9,73.9 422.3,73.7 426.7,73.6 431.1,73.4 435.4,73.2 439.8,73.0 444.2,72.8 448.6,72.6 453.0,72.4 457.3,72.2 461.7,71.9 466.1,71.7 470.5,71.5 474.8,71.3 479.2,71.0 483.6,70.8 483.6,80.8 479.2,80.6 474.8,80.4 470.5,80.2 466.1,80.0 461.7,79.8 457.3,79.6 453.0,79.5 448.6,79.3 444.2,79.1 439.8,78.9 435.4,78.8 431.1,78.6 426.7,78.5 422.3,78.3 417.9,78.2 413.6,78.1 409.2,78.0 404.8,78.0 400.4,78.0 396.1,78.0 391.7,78.0 387.3,78.0 382.9,78.1 378.5,78.2 374.2,78.4 369.8,78.5 365.4,78.7 361.0,78.9 356.7,79.0 352.3,79.2 347.9,79.5 343.5,79.7 339.1,79.9 334.8,80.1 330.4,80.3 326.0,80.6 321.6,80.8 317.3,81.0 312.9,81.3 308.5,81.5" fill="rgba(240,215,170,0.3)"/>
<polygon points="306.7,74.2 311.1,74.2 315.4,74.2 319.8,74.2 324.1,74.2 328.5,74.2 332.9,74.2 337.2,74.2 341.6,74.2 346.0,74.2 350.3,74.2 354.7,74.1 359.1,74.1 363.4,74.1 367.8,74.0 372.1,73.9 376.5,73.8 380.9,73.7 385.2,73.5 389.6,73.3 393.9,73.0 398.3,72.7 402.7,72.3 407.0,71.9 411.4,71.4 415.8,70.9 420.1,70.4 424.5,69.9 428.9,69.3 433.2,68.8 437.6,68.2 441.9,67.6 446.3,67.1 450.7,66.5 455.0,65.9 459.4,65.3 463.8,64.8 468.1,64.2 472.5,63.6 476.8,63.0 481.2,62.4 481.2,75.4 476.8,75.4 472.5,75.4 468.1,75.4 463.8,75.4 459.4,75.4 455.0,75.4 450.7,75.4 446.3,75.4 441.9,75.5 437.6,75.5 433.2,75.5 428.9,75.6 424.5,75.6 420.1,75.7 415.8,75.7 411.4,75.8 407.0,76.0 402.7,76.1 398.3,76.3 393.9,76.6 389.6,76.9 385.2,77.3 380.9,77.7 376.5,78.1 372.1,78.6 367.8,79.1 363.4,79.7 359.1,80.2 354.7,80.8 350.3,81.3 346.0,81.9 341.6,82.5 337.2,83.1 332.9,83.6 328.5,84.2 324.1,84.8 319.8,85.4 315.4,86.0 311.1,86.6 306.7,87.2" fill="rgba(190,190,190,0.28)"/>
<circle cx="308.9" cy="47.8" r="1.3" fill="#97b6ea"/>
<circle cx="381.6" cy="37.8" r="1.3" fill="#97b6ea"/>
<circle cx="357.3" cy="54.5" r="1.3" fill="#97b6ea"/>
<circle cx="393" cy="50" r="1.3" fill="#97b6ea"/>
<circle cx="357.3" cy="55" r="1.3" fill="#97b6ea"/>
<circle cx="357.3" cy="59.2" r="1.3" fill="#97b6ea"/>
<circle cx="345.3" cy="61.4" r="1.3" fill="#97b6ea"/>
<circle cx="369.5" cy="63.5" r="1.3" fill="#97b6ea"/>
<circle cx="381.6" cy="71.9" r="1.3" fill="#97b6ea"/>
<circle cx="357.3" cy="86.8" r="1.3" fill="#97b6ea"/>
<circle cx="381.6" cy="87.2" r="1.3" fill="#97b6ea"/>
<circle cx="393" cy="71.9" r="1.3" fill="#97b6ea"/>
<circle cx="394" cy="60" r="1.3" fill="#97b6ea"/>
<circle cx="394" cy="66" r="1.3" fill="#97b6ea"/>
<circle cx="394" cy="72" r="1.3" fill="#97b6ea"/>
<circle cx="418.4" cy="67" r="1.3" fill="#97b6ea"/>
<circle cx="430.4" cy="70" r="1.3" fill="#97b6ea"/>
<circle cx="454.4" cy="59" r="1.3" fill="#97b6ea"/>
<circle cx="479" cy="73" r="1.3" fill="#97b6ea"/>
<circle cx="430.3" cy="96" r="1.3" fill="#97b6ea"/>
<circle cx="357.3" cy="87.7" r="1.3" fill="#97b6ea"/>
<circle cx="381.6" cy="90.8" r="1.3" fill="#97b6ea"/>
<circle cx="345.3" cy="96.8" r="1.3" fill="#97b6ea"/>
<circle cx="345.3" cy="109" r="1.3" fill="#97b6ea"/>
<circle cx="393" cy="92.3" r="1.3" fill="#97b6ea"/>
<circle cx="406" cy="96" r="1.3" fill="#97b6ea"/>
<circle cx="430.4" cy="95.4" r="1.3" fill="#97b6ea"/>
<circle cx="406" cy="105" r="1.3" fill="#97b6ea"/>
<circle cx="418.4" cy="109.4" r="1.3" fill="#97b6ea"/>
<circle cx="406" cy="124" r="1.3" fill="#97b6ea"/>
<circle cx="442.4" cy="124" r="1.3" fill="#97b6ea"/>
<circle cx="455" cy="58.7" r="1.3" fill="#97b6ea"/>
<circle cx="345.3" cy="40.5" r="1.3" fill="#b2aea8"/>
<circle cx="345.3" cy="46.7" r="1.3" fill="#b2aea8"/>
<circle cx="381.6" cy="50.4" r="1.3" fill="#b2aea8"/>
<circle cx="393" cy="42.7" r="1.3" fill="#b2aea8"/>
<circle cx="406" cy="33" r="1.3" fill="#b2aea8"/>
<circle cx="430.4" cy="47.6" r="1.3" fill="#b2aea8"/>
<circle cx="345.3" cy="57.7" r="1.3" fill="#b2aea8"/>
<circle cx="369.5" cy="57.7" r="1.3" fill="#b2aea8"/>
<circle cx="357.3" cy="70.1" r="1.3" fill="#b2aea8"/>
<circle cx="381.6" cy="69.5" r="1.3" fill="#b2aea8"/>
<circle cx="369.5" cy="73.7" r="1.3" fill="#b2aea8"/>
<circle cx="381.6" cy="77.4" r="1.3" fill="#b2aea8"/>
<circle cx="357.3" cy="84.6" r="1.3" fill="#b2aea8"/>
<circle cx="369.5" cy="85.9" r="1.3" fill="#b2aea8"/>
<circle cx="381.6" cy="85.9" r="1.3" fill="#b2aea8"/>
<circle cx="406" cy="72" r="1.3" fill="#b2aea8"/>
<circle cx="406" cy="82" r="1.3" fill="#b2aea8"/>
<circle cx="466.4" cy="74" r="1.3" fill="#b2aea8"/>
<circle cx="369.5" cy="90.8" r="1.3" fill="#b2aea8"/>
<circle cx="381.6" cy="125" r="1.3" fill="#b2aea8"/>
<circle cx="333.1" cy="108.3" r="1.3" fill="#b2aea8"/>
<circle cx="393" cy="107.7" r="1.3" fill="#b2aea8"/>
<circle cx="406" cy="94.6" r="1.3" fill="#b2aea8"/>
<circle cx="394" cy="108" r="1.3" fill="#b2aea8"/>
<circle cx="430.4" cy="111.6" r="1.3" fill="#b2aea8"/>
<circle cx="430.3" cy="47.6" r="1.3" fill="#b2aea8"/>
<circle cx="320.9" cy="49.1" r="1.3" fill="#f2ca7e"/>
<circle cx="357.3" cy="45.5" r="1.3" fill="#f2ca7e"/>
<circle cx="369.5" cy="49.1" r="1.3" fill="#f2ca7e"/>
<circle cx="406" cy="36.6" r="1.3" fill="#f2ca7e"/>
<circle cx="406" cy="45.4" r="1.3" fill="#f2ca7e"/>
<circle cx="418.4" cy="49" r="1.3" fill="#f2ca7e"/>
<circle cx="357.3" cy="56.3" r="1.3" fill="#f2ca7e"/>
<circle cx="357.3" cy="63.5" r="1.3" fill="#f2ca7e"/>
<circle cx="333.1" cy="65.9" r="1.3" fill="#f2ca7e"/>
<circle cx="381.6" cy="79.9" r="1.3" fill="#f2ca7e"/>
<circle cx="369.5" cy="82.3" r="1.3" fill="#f2ca7e"/>
<circle cx="393" cy="79.2" r="1.3" fill="#f2ca7e"/>
<circle cx="394" cy="68.6" r="1.3" fill="#f2ca7e"/>
<circle cx="394" cy="80" r="1.3" fill="#f2ca7e"/>
<circle cx="394" cy="84.6" r="1.3" fill="#f2ca7e"/>
<circle cx="418.4" cy="68.6" r="1.3" fill="#f2ca7e"/>
<circle cx="430.4" cy="79.4" r="1.3" fill="#f2ca7e"/>
<circle cx="418.4" cy="88" r="1.3" fill="#f2ca7e"/>
<circle cx="454.4" cy="67.4" r="1.3" fill="#f2ca7e"/>
<circle cx="466.4" cy="64" r="1.3" fill="#f2ca7e"/>
<circle cx="455" cy="67.2" r="1.3" fill="#f2ca7e"/>
<circle cx="430.3" cy="79.2" r="1.3" fill="#f2ca7e"/>
<circle cx="357.3" cy="93.7" r="1.3" fill="#f2ca7e"/>
<circle cx="369.5" cy="99.2" r="1.3" fill="#f2ca7e"/>
<circle cx="381.6" cy="104.1" r="1.3" fill="#f2ca7e"/>
<circle cx="333.1" cy="102.8" r="1.3" fill="#f2ca7e"/>
<circle cx="393" cy="98.1" r="1.3" fill="#f2ca7e"/>
<circle cx="394" cy="98.2" r="1.3" fill="#f2ca7e"/>
<circle cx="418.4" cy="88.4" r="1.3" fill="#f2ca7e"/>
<circle cx="406" cy="106.6" r="1.3" fill="#f2ca7e"/>
<circle cx="430.4" cy="106.6" r="1.3" fill="#f2ca7e"/>
<circle cx="454.4" cy="110.4" r="1.3" fill="#f2ca7e"/>
<line x1="306.7" y1="80.7" x2="481.2" y2="68.9" stroke="#a59e92" stroke-width="1.4"/>
<line x1="308.5" y1="76.5" x2="483.6" y2="75.8" stroke="#ebb34c" stroke-width="1.4"/>
<line x1="304.9" y1="69.8" x2="479.0" y2="86.0" stroke="#6497e6" stroke-width="1.4"/>
<line x1="293.7" y1="12" x2="293.7" y2="147.8" stroke="#767676" stroke-width="1.1"/>
<line x1="293.2" y1="147.3" x2="494.3" y2="147.3" stroke="#767676" stroke-width="1.1"/>
<line x1="291.3" y1="18.3" x2="293.7" y2="18.3" stroke="#454545" stroke-width="1.3"/>
<text x="289.5" y="22.3" text-anchor="end" class="tk">7</text>
<line x1="291.3" y1="42.86" x2="293.7" y2="42.86" stroke="#454545" stroke-width="1.3"/>
<text x="289.5" y="46.86" text-anchor="end" class="tk">6</text>
<line x1="291.3" y1="67.42" x2="293.7" y2="67.42" stroke="#454545" stroke-width="1.3"/>
<text x="289.5" y="71.42" text-anchor="end" class="tk">5</text>
<line x1="291.3" y1="91.98" x2="293.7" y2="91.98" stroke="#454545" stroke-width="1.3"/>
<text x="289.5" y="95.98" text-anchor="end" class="tk">4</text>
<line x1="291.3" y1="116.54" x2="293.7" y2="116.54" stroke="#454545" stroke-width="1.3"/>
<text x="289.5" y="120.54" text-anchor="end" class="tk">3</text>
<line x1="291.3" y1="141.1" x2="293.7" y2="141.1" stroke="#454545" stroke-width="1.3"/>
<text x="289.5" y="145.1" text-anchor="end" class="tk">2</text>
<line x1="314.3" y1="147.3" x2="314.3" y2="149.70000000000002" stroke="#454545" stroke-width="1.3"/>
<text x="314.3" y="161.2" text-anchor="middle" class="tk">-2</text>
<line x1="350.5" y1="147.3" x2="350.5" y2="149.70000000000002" stroke="#454545" stroke-width="1.3"/>
<text x="345.39" y="161.2" class="tk">-</text><path d="M762 0L582 0L582 1147Q517 1085 411 1023Q305 961 221 930L221 1104Q372 1175 485 1276Q598 1377 645 1472L762 1472Z" transform="translate(349.22,161.20) scale(0.00562,-0.00562)" fill="#111" stroke="#111" stroke-width="35.6"/>
<line x1="386.8" y1="147.3" x2="386.8" y2="149.70000000000002" stroke="#454545" stroke-width="1.3"/>
<text x="386.8" y="161.2" text-anchor="middle" class="tk">0</text>
<line x1="423.1" y1="147.3" x2="423.1" y2="149.70000000000002" stroke="#454545" stroke-width="1.3"/>
<path d="M762 0L582 0L582 1147Q517 1085 411 1023Q305 961 221 930L221 1104Q372 1175 485 1276Q598 1377 645 1472L762 1472Z" transform="translate(419.90,161.20) scale(0.00562,-0.00562)" fill="#111" stroke="#111" stroke-width="35.6"/>
<line x1="459.4" y1="147.3" x2="459.4" y2="149.70000000000002" stroke="#454545" stroke-width="1.3"/>
<text x="459.4" y="161.2" text-anchor="middle" class="tk">2</text>
<text x="356.1" y="174.1" class="ti">extraversion</text>
<text transform="translate(280.1,78.0) rotate(-90) scale(1,0.9)" x="0" y="0" text-anchor="middle" class="ti">coping</text>
<text x="261.3" y="18.7" class="pl">B</text>
<line x1="327.3" y1="216.8" x2="385" y2="219" stroke="#cde8ec" stroke-width="0.65" stroke-dasharray="1.6,1.1"/>
<line x1="313" y1="225.5" x2="326" y2="227.7" stroke="#cde8ec" stroke-width="0.65" stroke-dasharray="1.6,1.1"/>
<line x1="356.7" y1="228.8" x2="385" y2="226.6" stroke="#cde8ec" stroke-width="0.65" stroke-dasharray="1.6,1.1"/>
<line x1="327.3" y1="233.2" x2="356.7" y2="233.2" stroke="#cde8ec" stroke-width="0.65" stroke-dasharray="1.6,1.1"/>
<line x1="372" y1="234.3" x2="400.4" y2="228.8" stroke="#cde8ec" stroke-width="0.65" stroke-dasharray="1.6,1.1"/>
<line x1="385" y1="227.7" x2="420" y2="223.4" stroke="#cde8ec" stroke-width="0.65" stroke-dasharray="1.6,1.1"/>
<line x1="313" y1="259.4" x2="343.6" y2="261.5" stroke="#cde8ec" stroke-width="0.65" stroke-dasharray="1.6,1.1"/>
<line x1="356.7" y1="252.8" x2="385" y2="255" stroke="#cde8ec" stroke-width="0.65" stroke-dasharray="1.6,1.1"/>
<line x1="343.6" y1="260.5" x2="372" y2="260.5" stroke="#cde8ec" stroke-width="0.65" stroke-dasharray="1.6,1.1"/>
<line x1="385" y1="256" x2="420" y2="254" stroke="#cde8ec" stroke-width="0.65" stroke-dasharray="1.6,1.1"/>
<line x1="384" y1="223" x2="414" y2="224" stroke="#cde8ec" stroke-width="0.65" stroke-dasharray="1.6,1.1"/>
<line x1="414" y1="224" x2="428" y2="224" stroke="#cde8ec" stroke-width="0.65" stroke-dasharray="1.6,1.1"/>
<line x1="428" y1="224" x2="443" y2="226" stroke="#cde8ec" stroke-width="0.65" stroke-dasharray="1.6,1.1"/>
<line x1="443" y1="226" x2="472" y2="223" stroke="#cde8ec" stroke-width="0.65" stroke-dasharray="1.6,1.1"/>
<line x1="428" y1="241" x2="458" y2="228" stroke="#cde8ec" stroke-width="0.65" stroke-dasharray="1.6,1.1"/>
<line x1="384" y1="233" x2="412" y2="234" stroke="#cde8ec" stroke-width="0.65" stroke-dasharray="1.6,1.1"/>
<line x1="384" y1="258" x2="414" y2="259" stroke="#cde8ec" stroke-width="0.65" stroke-dasharray="1.6,1.1"/>
<line x1="414" y1="259" x2="430" y2="255" stroke="#cde8ec" stroke-width="0.65" stroke-dasharray="1.6,1.1"/>
<line x1="400" y1="272" x2="428" y2="274.4" stroke="#cde8ec" stroke-width="0.65" stroke-dasharray="1.6,1.1"/>
<line x1="384" y1="282" x2="414" y2="287" stroke="#cde8ec" stroke-width="0.65" stroke-dasharray="1.6,1.1"/>
<line x1="313" y1="259.5" x2="341.8" y2="263" stroke="#cde8ec" stroke-width="0.65" stroke-dasharray="1.6,1.1"/>
<line x1="341.8" y1="263" x2="370.7" y2="266" stroke="#cde8ec" stroke-width="0.65" stroke-dasharray="1.6,1.1"/>
<line x1="356.4" y1="284" x2="394" y2="282" stroke="#cde8ec" stroke-width="0.65" stroke-dasharray="1.6,1.1"/>
<line x1="341" y1="212" x2="356" y2="207" stroke="#cde8ec" stroke-width="0.65" stroke-dasharray="1.6,1.1"/>
<line x1="300" y1="244" x2="330" y2="250" stroke="#cde8ec" stroke-width="0.65" stroke-dasharray="1.6,1.1"/>
<polygon points="310.0,242.3 314.3,242.4 318.7,242.5 323.0,242.6 327.4,242.7 331.7,242.8 336.0,242.9 340.4,243.0 344.7,243.0 349.0,243.1 353.4,243.2 357.7,243.2 362.1,243.3 366.4,243.3 370.7,243.4 375.1,243.4 379.4,243.4 383.7,243.3 388.1,243.3 392.4,243.1 396.8,243.0 401.1,242.8 405.4,242.6 409.8,242.3 414.1,242.0 418.4,241.7 422.8,241.4 427.1,241.1 431.4,240.7 435.8,240.3 440.1,240.0 444.5,239.6 448.8,239.2 453.1,238.8 457.5,238.4 461.8,238.0 466.1,237.6 470.5,237.2 474.8,236.8 479.2,236.4 483.5,236.0 483.5,247.6 479.2,247.5 474.8,247.4 470.5,247.3 466.1,247.2 461.8,247.1 457.5,247.0 453.1,246.9 448.8,246.8 444.5,246.7 440.1,246.6 435.8,246.6 431.4,246.5 427.1,246.4 422.8,246.4 418.4,246.4 414.1,246.4 409.8,246.4 405.4,246.4 401.1,246.5 396.8,246.6 392.4,246.8 388.1,246.9 383.7,247.2 379.4,247.4 375.1,247.7 370.7,248.0 366.4,248.4 362.1,248.7 357.7,249.1 353.4,249.4 349.0,249.8 344.7,250.2 340.4,250.5 336.0,250.9 331.7,251.3 327.4,251.7 323.0,252.1 318.7,252.5 314.3,252.9 310.0,253.3" fill="rgba(240,215,170,0.3)"/>
<polygon points="307.6,231.8 311.9,232.4 316.2,233.0 320.6,233.6 324.9,234.1 329.2,234.7 333.5,235.3 337.8,235.9 342.2,236.4 346.5,237.0 350.8,237.6 355.1,238.1 359.4,238.7 363.8,239.2 368.1,239.7 372.4,240.2 376.7,240.7 381.0,241.1 385.4,241.6 389.7,241.9 394.0,242.3 398.3,242.6 402.6,242.9 407.0,243.2 411.3,243.4 415.6,243.6 419.9,243.8 424.2,244.0 428.6,244.2 432.9,244.4 437.2,244.5 441.5,244.7 445.8,244.8 450.2,245.0 454.5,245.1 458.8,245.3 463.1,245.4 467.4,245.5 471.8,245.6 476.1,245.8 480.4,245.9 480.4,255.9 476.1,255.3 471.8,254.8 467.4,254.2 463.1,253.7 458.8,253.1 454.5,252.6 450.2,252.1 445.8,251.5 441.5,251.0 437.2,250.5 432.9,249.9 428.6,249.4 424.2,248.9 419.9,248.4 415.6,248.0 411.3,247.5 407.0,247.1 402.6,246.7 398.3,246.3 394.0,245.9 389.7,245.6 385.4,245.3 381.0,245.0 376.7,244.8 372.4,244.6 368.1,244.4 363.8,244.3 359.4,244.1 355.1,244.0 350.8,243.8 346.5,243.7 342.2,243.6 337.8,243.5 333.5,243.4 329.2,243.3 324.9,243.2 320.6,243.1 316.2,243.0 311.9,242.9 307.6,242.8" fill="rgba(190,190,190,0.28)"/>
<polygon points="304.9,232.8 309.2,233.4 313.5,234.0 317.9,234.7 322.2,235.3 326.5,235.9 330.8,236.5 335.1,237.1 339.4,237.7 343.8,238.3 348.1,238.9 352.4,239.5 356.7,240.1 361.0,240.7 365.3,241.2 369.7,241.8 374.0,242.3 378.3,242.8 382.6,243.3 386.9,243.8 391.2,244.2 395.6,244.6 399.9,245.0 404.2,245.3 408.5,245.6 412.8,245.9 417.2,246.2 421.5,246.5 425.8,246.7 430.1,246.9 434.4,247.2 438.7,247.4 443.1,247.6 447.4,247.8 451.7,248.0 456.0,248.2 460.3,248.4 464.6,248.6 469.0,248.8 473.3,249.0 477.6,249.2 477.6,259.2 473.3,258.6 469.0,257.9 464.6,257.3 460.3,256.7 456.0,256.1 451.7,255.5 447.4,254.8 443.1,254.2 438.7,253.6 434.4,253.0 430.1,252.4 425.8,251.9 421.5,251.3 417.2,250.7 412.8,250.2 408.5,249.7 404.2,249.1 399.9,248.7 395.6,248.2 391.2,247.8 386.9,247.4 382.6,247.0 378.3,246.7 374.0,246.4 369.7,246.1 365.3,245.8 361.0,245.6 356.7,245.3 352.4,245.1 348.1,244.9 343.8,244.6 339.4,244.4 335.1,244.2 330.8,244.0 326.5,243.8 322.2,243.6 317.9,243.4 313.5,243.2 309.2,243.0 304.9,242.8" fill="rgba(170,195,235,0.25)"/>
<circle cx="327.6" cy="220" r="1.3" fill="#97b6ea"/>
<circle cx="356.4" cy="206.7" r="1.3" fill="#97b6ea"/>
<circle cx="399.6" cy="219.6" r="1.3" fill="#97b6ea"/>
<circle cx="428.4" cy="223.6" r="1.3" fill="#97b6ea"/>
<circle cx="327.6" cy="220.1" r="1.3" fill="#97b6ea"/>
<circle cx="313.1" cy="232.6" r="1.3" fill="#97b6ea"/>
<circle cx="385.3" cy="227.7" r="1.3" fill="#97b6ea"/>
<circle cx="385" cy="227.4" r="1.3" fill="#97b6ea"/>
<circle cx="399.6" cy="229.4" r="1.3" fill="#97b6ea"/>
<circle cx="399.6" cy="230.6" r="1.3" fill="#97b6ea"/>
<circle cx="428.4" cy="224" r="1.3" fill="#97b6ea"/>
<circle cx="399.6" cy="238.6" r="1.3" fill="#97b6ea"/>
<circle cx="457.6" cy="235" r="1.3" fill="#97b6ea"/>
<circle cx="443" cy="242" r="1.3" fill="#97b6ea"/>
<circle cx="414" cy="256" r="1.3" fill="#97b6ea"/>
<circle cx="414" cy="259" r="1.3" fill="#97b6ea"/>
<circle cx="341.8" cy="264.1" r="1.3" fill="#97b6ea"/>
<circle cx="370.7" cy="264.1" r="1.3" fill="#97b6ea"/>
<circle cx="313.1" cy="278.1" r="1.3" fill="#97b6ea"/>
<circle cx="385.3" cy="292.3" r="1.3" fill="#97b6ea"/>
<circle cx="385.3" cy="293.7" r="1.3" fill="#97b6ea"/>
<circle cx="399.6" cy="255.6" r="1.3" fill="#97b6ea"/>
<circle cx="399.6" cy="260.6" r="1.3" fill="#97b6ea"/>
<circle cx="414" cy="259.4" r="1.3" fill="#97b6ea"/>
<circle cx="428.4" cy="265.4" r="1.3" fill="#97b6ea"/>
<circle cx="428.4" cy="274.4" r="1.3" fill="#97b6ea"/>
<circle cx="428.4" cy="277.6" r="1.3" fill="#97b6ea"/>
<circle cx="414" cy="292.6" r="1.3" fill="#97b6ea"/>
<circle cx="385" cy="215.5" r="1.3" fill="#97b6ea"/>
<circle cx="341.6" cy="211.8" r="1.3" fill="#b2aea8"/>
<circle cx="385.3" cy="209.1" r="1.3" fill="#b2aea8"/>
<circle cx="370.7" cy="217" r="1.3" fill="#b2aea8"/>
<circle cx="414" cy="201.6" r="1.3" fill="#b2aea8"/>
<circle cx="327.6" cy="226.3" r="1.3" fill="#b2aea8"/>
<circle cx="341.8" cy="238.3" r="1.3" fill="#b2aea8"/>
<circle cx="356.4" cy="251" r="1.3" fill="#b2aea8"/>
<circle cx="385.3" cy="258.6" r="1.3" fill="#b2aea8"/>
<circle cx="414" cy="227.4" r="1.3" fill="#b2aea8"/>
<circle cx="443" cy="226.4" r="1.3" fill="#b2aea8"/>
<circle cx="414" cy="240.6" r="1.3" fill="#b2aea8"/>
<circle cx="428.4" cy="254.6" r="1.3" fill="#b2aea8"/>
<circle cx="385.3" cy="259.5" r="1.3" fill="#b2aea8"/>
<circle cx="341.8" cy="261.9" r="1.3" fill="#b2aea8"/>
<circle cx="370.7" cy="261.9" r="1.3" fill="#b2aea8"/>
<circle cx="356.4" cy="280.5" r="1.3" fill="#b2aea8"/>
<circle cx="385.3" cy="276.8" r="1.3" fill="#b2aea8"/>
<circle cx="414" cy="263.4" r="1.3" fill="#b2aea8"/>
<circle cx="385" cy="259.4" r="1.3" fill="#b2aea8"/>
<circle cx="385" cy="276.6" r="1.3" fill="#b2aea8"/>
<circle cx="370.7" cy="218.5" r="1.3" fill="#f2ca7e"/>
<circle cx="385.3" cy="205.5" r="1.3" fill="#f2ca7e"/>
<circle cx="385.3" cy="217.8" r="1.3" fill="#f2ca7e"/>
<circle cx="399.6" cy="214" r="1.3" fill="#f2ca7e"/>
<circle cx="399.6" cy="218" r="1.3" fill="#f2ca7e"/>
<circle cx="443" cy="214" r="1.3" fill="#f2ca7e"/>
<circle cx="414" cy="224.4" r="1.3" fill="#f2ca7e"/>
<circle cx="327.6" cy="232.6" r="1.3" fill="#f2ca7e"/>
<circle cx="356.4" cy="232.6" r="1.3" fill="#f2ca7e"/>
<circle cx="370.7" cy="237.7" r="1.3" fill="#f2ca7e"/>
<circle cx="385.3" cy="237.7" r="1.3" fill="#f2ca7e"/>
<circle cx="370.7" cy="248.6" r="1.3" fill="#f2ca7e"/>
<circle cx="385.3" cy="248.6" r="1.3" fill="#f2ca7e"/>
<circle cx="356.4" cy="257.2" r="1.3" fill="#f2ca7e"/>
<circle cx="414" cy="225" r="1.3" fill="#f2ca7e"/>
<circle cx="414" cy="229" r="1.3" fill="#f2ca7e"/>
<circle cx="385" cy="237.4" r="1.3" fill="#f2ca7e"/>
<circle cx="399.6" cy="240" r="1.3" fill="#f2ca7e"/>
<circle cx="414" cy="235" r="1.3" fill="#f2ca7e"/>
<circle cx="414" cy="236.6" r="1.3" fill="#f2ca7e"/>
<circle cx="472" cy="236" r="1.3" fill="#f2ca7e"/>
<circle cx="428.4" cy="244" r="1.3" fill="#f2ca7e"/>
<circle cx="457.6" cy="244.6" r="1.3" fill="#f2ca7e"/>
<circle cx="385" cy="248.6" r="1.3" fill="#f2ca7e"/>
<circle cx="399.6" cy="249" r="1.3" fill="#f2ca7e"/>
<circle cx="399.6" cy="254" r="1.3" fill="#f2ca7e"/>
<circle cx="428.4" cy="251" r="1.3" fill="#f2ca7e"/>
<circle cx="370.7" cy="268.1" r="1.3" fill="#f2ca7e"/>
<circle cx="370.7" cy="271.9" r="1.3" fill="#f2ca7e"/>
<circle cx="341.8" cy="273.2" r="1.3" fill="#f2ca7e"/>
<circle cx="356.4" cy="275.4" r="1.3" fill="#f2ca7e"/>
<circle cx="385.3" cy="279.2" r="1.3" fill="#f2ca7e"/>
<circle cx="443" cy="263" r="1.3" fill="#f2ca7e"/>
<circle cx="443" cy="267" r="1.3" fill="#f2ca7e"/>
<circle cx="399.6" cy="275.4" r="1.3" fill="#f2ca7e"/>
<circle cx="385" cy="279.4" r="1.3" fill="#f2ca7e"/>
<line x1="307.6" y1="237.3" x2="480.4" y2="250.9" stroke="#a59e92" stroke-width="1.4"/>
<line x1="310.0" y1="247.8" x2="483.5" y2="241.8" stroke="#ebb34c" stroke-width="1.4"/>
<line x1="304.9" y1="237.8" x2="477.6" y2="254.2" stroke="#6497e6" stroke-width="1.4"/>
<line x1="293.7" y1="184" x2="293.7" y2="316.6" stroke="#767676" stroke-width="1.1"/>
<line x1="293.2" y1="316.1" x2="492" y2="316.1" stroke="#767676" stroke-width="1.1"/>
<line x1="291.3" y1="186.8" x2="293.7" y2="186.8" stroke="#454545" stroke-width="1.3"/>
<text x="289.5" y="190.8" text-anchor="end" class="tk">7</text>
<line x1="291.3" y1="211.46" x2="293.7" y2="211.46" stroke="#454545" stroke-width="1.3"/>
<text x="289.5" y="215.46" text-anchor="end" class="tk">6</text>
<line x1="291.3" y1="236.12" x2="293.7" y2="236.12" stroke="#454545" stroke-width="1.3"/>
<text x="289.5" y="240.12" text-anchor="end" class="tk">5</text>
<line x1="291.3" y1="260.78" x2="293.7" y2="260.78" stroke="#454545" stroke-width="1.3"/>
<text x="289.5" y="264.78" text-anchor="end" class="tk">4</text>
<line x1="291.3" y1="285.44" x2="293.7" y2="285.44" stroke="#454545" stroke-width="1.3"/>
<text x="289.5" y="289.44" text-anchor="end" class="tk">3</text>
<line x1="291.3" y1="310.1" x2="293.7" y2="310.1" stroke="#454545" stroke-width="1.3"/>
<text x="289.5" y="314.1" text-anchor="end" class="tk">2</text>
<line x1="308.0" y1="316.1" x2="308.0" y2="318.5" stroke="#454545" stroke-width="1.3"/>
<text x="308.0" y="329.0" text-anchor="middle" class="tk">-2</text>
<line x1="351.2" y1="316.1" x2="351.2" y2="318.5" stroke="#454545" stroke-width="1.3"/>
<text x="346.09" y="329.0" class="tk">-</text><path d="M762 0L582 0L582 1147Q517 1085 411 1023Q305 961 221 930L221 1104Q372 1175 485 1276Q598 1377 645 1472L762 1472Z" transform="translate(349.92,329.00) scale(0.00562,-0.00562)" fill="#111" stroke="#111" stroke-width="35.6"/>
<line x1="394.4" y1="316.1" x2="394.4" y2="318.5" stroke="#454545" stroke-width="1.3"/>
<text x="394.4" y="329.0" text-anchor="middle" class="tk">0</text>
<line x1="437.6" y1="316.1" x2="437.6" y2="318.5" stroke="#454545" stroke-width="1.3"/>
<path d="M762 0L582 0L582 1147Q517 1085 411 1023Q305 961 221 930L221 1104Q372 1175 485 1276Q598 1377 645 1472L762 1472Z" transform="translate(434.40,329.00) scale(0.00562,-0.00562)" fill="#111" stroke="#111" stroke-width="35.6"/>
<line x1="480.8" y1="316.1" x2="480.8" y2="318.5" stroke="#454545" stroke-width="1.3"/>
<text x="480.8" y="329.0" text-anchor="middle" class="tk">2</text>
<text x="356.0" y="342.5" class="ti">agreeableness</text>
<text transform="translate(280.1,247.2) rotate(-90) scale(1,0.9)" x="0" y="0" text-anchor="middle" class="ti">coping</text>
<text x="261.2" y="184.5" class="pl">D</text>
<text x="528.3" y="59.6" text-anchor="middle" class="lg">timepoint</text>
<text x="528.3" y="70.8" text-anchor="middle" class="lg">(SE)</text>
<line x1="509.3" y1="81.3" x2="518" y2="81.3" stroke="#6497e6" stroke-width="1.4"/>
<text x="524.2" y="85.0" text-anchor="start" class="lg2">T0</text>
<line x1="509.3" y1="91.85" x2="518" y2="91.85" stroke="#a59e92" stroke-width="1.4"/>
<text x="524.20" y="95.55" class="lg2">T</text><path d="M762 0L582 0L582 1147Q517 1085 411 1023Q305 961 221 930L221 1104Q372 1175 485 1276Q598 1377 645 1472L762 1472Z" transform="translate(530.19,95.55) scale(0.00479,-0.00479)" fill="#111" stroke="#111" stroke-width="37.6"/>
<line x1="509.3" y1="102.4" x2="518" y2="102.4" stroke="#ebb34c" stroke-width="1.4"/>
<text x="524.2" y="106.1" text-anchor="start" class="lg2">T2</text>
<text x="528.3" y="228.79999999999998" text-anchor="middle" class="lg">timepoint</text>
<text x="528.3" y="240.0" text-anchor="middle" class="lg">(SE)</text>
<line x1="509.3" y1="250.5" x2="518" y2="250.5" stroke="#6497e6" stroke-width="1.4"/>
<text x="524.2" y="254.2" text-anchor="start" class="lg2">T0</text>
<line x1="509.3" y1="261.04999999999995" x2="518" y2="261.04999999999995" stroke="#a59e92" stroke-width="1.4"/>
<text x="524.20" y="264.75" class="lg2">T</text><path d="M762 0L582 0L582 1147Q517 1085 411 1023Q305 961 221 930L221 1104Q372 1175 485 1276Q598 1377 645 1472L762 1472Z" transform="translate(530.19,264.75) scale(0.00479,-0.00479)" fill="#111" stroke="#111" stroke-width="37.6"/>
<line x1="509.3" y1="271.6" x2="518" y2="271.6" stroke="#ebb34c" stroke-width="1.4"/>
<text x="524.2" y="275.3" text-anchor="start" class="lg2">T2</text>
</svg>
</body></html>
